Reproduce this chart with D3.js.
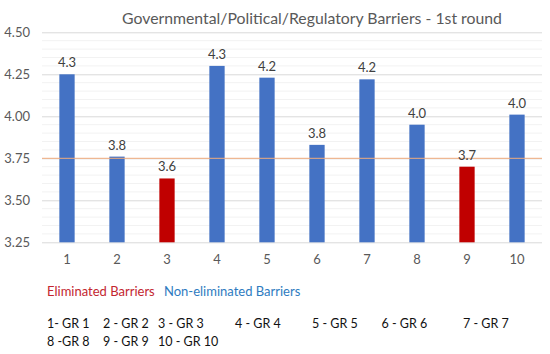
<!DOCTYPE html>
<html>
<head>
<meta charset="utf-8">
<script src="https://cdn.jsdelivr.net/npm/d3@7"></script>
<style>
  body { margin: 0; background: #fff; }
  svg { display: block; font-family: Lato, "Open Sans", sans-serif; }
</style>
</head>
<body>
<svg width="550" height="354"></svg>
<script>
const categories = ["1", "2", "3", "4", "5", "6", "7", "8", "9", "10"];
const values = [4.25, 3.76, 3.63, 4.30, 4.23, 3.83, 4.22, 3.95, 3.70, 4.01];
const eliminated = [false, false, true, false, false, false, false, false, true, false];
const cutoff = 3.75;
const yTicks = [3.25, 3.50, 3.75, 4.00, 4.25, 4.50];
const title = "Governmental/Political/Regulatory Barriers - 1st round";
const keyRow1 = ["1- GR 1", "2 - GR 2", "3 - GR 3", "4 - GR 4", "5 - GR 5", "6 - GR 6", "7 - GR 7"];
const keyRow2 = ["8 -GR 8", "9 - GR 9", "10 - GR 10"];

const svg = d3.select("svg");
const plotL = 42, plotR = 542, plotT = 32.3, plotB = 242.3;

const x = d3.scaleBand().domain(categories).range([plotL, plotR]).paddingInner(0.694).paddingOuter(0.347);
const y = d3.scaleLinear().domain([3.25, 4.5]).range([plotB, plotT]);

// minor gridlines every 0.05
const minor = d3.range(1, 25).filter(i => i % 5 !== 0).map(i => 3.25 + i * 0.05);
svg.append("g").selectAll("line").data(minor).join("line")
  .attr("x1", plotL).attr("x2", plotR)
  .attr("y1", d => y(d)).attr("y2", d => y(d))
  .attr("stroke", "#f2f2f2").attr("stroke-width", 1);

// y axis with major gridlines
const yAxis = svg.append("g")
  .attr("transform", `translate(${plotL},0)`)
  .call(d3.axisLeft(y).tickValues(yTicks).tickFormat(d3.format(".2f")).tickSize(-(plotR - plotL)).tickPadding(12));
yAxis.select(".domain").remove();
yAxis.selectAll(".tick line").attr("stroke", "#d9d9d9");
yAxis.selectAll(".tick text").attr("fill", "#595959").attr("font-size", 13).attr("font-family", "Lato");

// x axis labels
const xAxis = svg.append("g")
  .attr("transform", `translate(0,${plotB})`)
  .call(d3.axisBottom(x).tickSize(0).tickPadding(12));
xAxis.select(".domain").remove();
xAxis.selectAll(".tick text").attr("fill", "#595959").attr("font-size", 13).attr("font-family", "Lato");

// bars
const data = categories.map((c, i) => ({ c, v: values[i], elim: eliminated[i] }));
svg.append("g").selectAll("rect").data(data).join("rect")
  .attr("x", d => x(d.c))
  .attr("width", x.bandwidth())
  .attr("y", d => y(d.v))
  .attr("height", d => y(3.25) - y(d.v))
  .attr("fill", d => d.elim ? "#c00000" : "#4472c4");

// cutoff line
svg.append("line")
  .attr("x1", plotL).attr("x2", plotR)
  .attr("y1", y(cutoff)).attr("y2", y(cutoff))
  .attr("stroke", "#f0ac7e").attr("stroke-width", 1);

// value labels
svg.append("g").selectAll("text").data(data).join("text")
  .attr("x", d => x(d.c) + x.bandwidth() / 2)
  .attr("y", d => y(d.v) - 7)
  .attr("text-anchor", "middle")
  .attr("fill", "#404040")
  .attr("font-size", 13)
  .text(d => d3.format(".1f")(d.v));

// title
svg.append("text")
  .attr("x", 312).attr("y", 24)
  .attr("text-anchor", "middle")
  .attr("fill", "#595959")
  .attr("font-size", 15.8)
  .text(title);

// legend
svg.append("text").attr("x", 47).attr("y", 295.5)
  .attr("fill", "#c3262f").attr("font-size", 13).text("Eliminated Barriers");
svg.append("text").attr("x", 164).attr("y", 295.5)
  .attr("fill", "#2e7bbf").attr("font-size", 13).text("Non-eliminated Barriers");

const row1X = [47, 103, 158, 235, 312, 381.5, 463];
const row2X = [47, 103, 158];
svg.append("g").selectAll("text").data(keyRow1).join("text")
  .attr("x", (d, i) => row1X[i]).attr("y", 328)
  .attr("fill", "#111").attr("font-size", 12.5).text(d => d);
svg.append("g").selectAll("text").data(keyRow2).join("text")
  .attr("x", (d, i) => row2X[i]).attr("y", 345.5)
  .attr("fill", "#111").attr("font-size", 12.5).text(d => d);
</script>
</body>
</html>
